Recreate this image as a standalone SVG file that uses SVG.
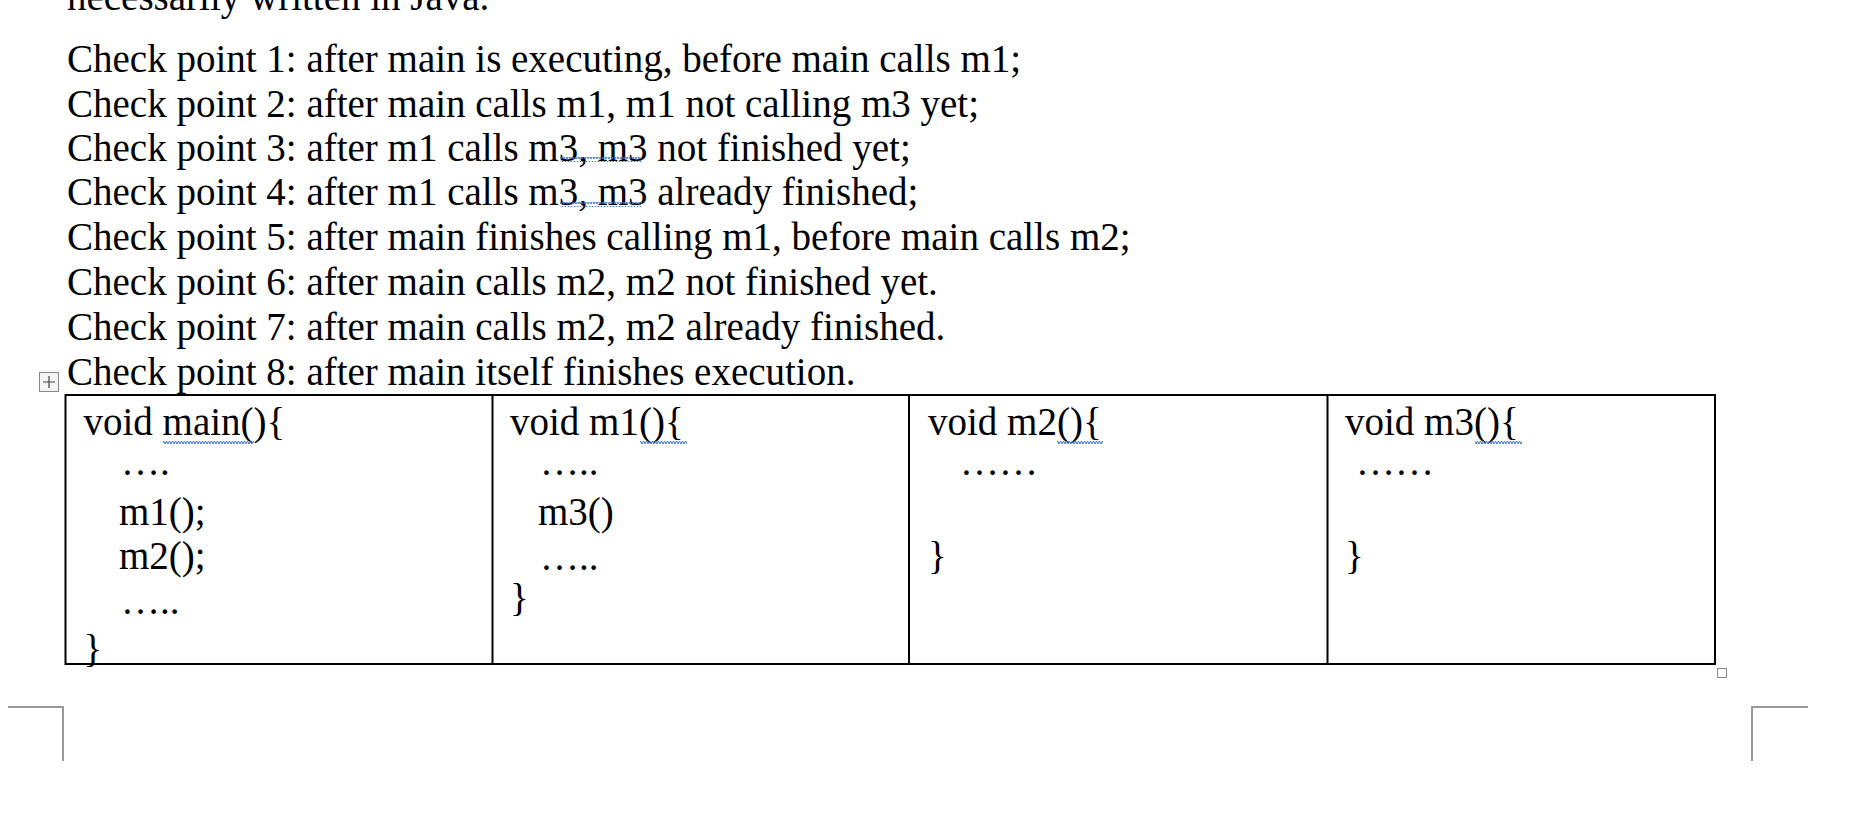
<svg xmlns="http://www.w3.org/2000/svg" width="1870" height="832" viewBox="0 0 1870 832">
<style>
text{font-family:"Liberation Serif","Times New Roman",serif;font-size:39px;fill:#000}
.b{fill:none;stroke:#000;stroke-width:2}
.m{fill:none;stroke:#999;stroke-width:2}
</style>
<defs>
<pattern id="sq" width="6" height="5" patternUnits="userSpaceOnUse"><path d="M0 4 L1.5 1 L3 4 L4.5 1 L6 4" fill="none" stroke="#3b6fd4" stroke-width="1"/></pattern>
</defs>
<rect width="1870" height="832" fill="#fff"/>
<g id="text">
<text x="67" y="10">necessarily written in Java.</text>
<text x="67" y="72">Check point 1: after main is executing, before main calls m1;</text>
<text x="67" y="117">Check point 2: after main calls m1, m1 not calling m3 yet;</text>
<text x="67" y="161">Check point 3: after m1 calls m3,  m3 not finished yet;</text>
<text x="67" y="205">Check point 4: after m1 calls m3,  m3 already finished;</text>
<text x="67" y="250">Check point 5: after main finishes calling m1, before main calls m2;</text>
<text x="67" y="295">Check point 6: after main calls m2, m2 not finished yet.</text>
<text x="67" y="340">Check point 7: after main calls m2, m2 already finished.</text>
<text x="67" y="385">Check point 8: after main itself finishes execution.</text>
</g>
<g id="table">
<rect class="b" x="65.5" y="395" width="1649.5" height="269"/>
<line class="b" x1="492.5" y1="395" x2="492.5" y2="664"/>
<line class="b" x1="909" y1="395" x2="909" y2="664"/>
<line class="b" x1="1327.5" y1="395" x2="1327.5" y2="664"/>
</g>
<g id="main">
<text x="83.5" y="435">void main(){</text>
<text x="121" y="475">….</text>
<text x="119" y="525">m1();</text>
<text x="119" y="569">m2();</text>
<text x="121" y="614">…..</text>
<text x="83.5" y="662">}</text>
</g>
<g id="m1">
<text x="510" y="435">void m1(){</text>
<text x="540" y="475">…..</text>
<text x="538" y="525">m3()</text>
<text x="540" y="570">…..</text>
<text x="510" y="611">}</text>
</g>
<g id="m2">
<text x="928" y="435">void m2(){</text>
<text x="960" y="475">……</text>
<text x="928" y="569">}</text>
</g>
<g id="m3">
<text x="1345" y="435">void m3(){</text>
<text x="1356" y="475">……</text>
<text x="1345" y="569">}</text>
</g>
<g id="squiggles">
<rect x="560" y="157" width="82" height="5" fill="url(#sq)"/>
<rect x="560" y="202" width="82" height="5" fill="url(#sq)"/>
<rect x="163" y="440" width="91" height="5" fill="url(#sq)"/>
<rect x="640" y="440" width="47" height="5" fill="url(#sq)"/>
<rect x="1057" y="440" width="46" height="5" fill="url(#sq)"/>
<rect x="1475" y="440" width="47" height="5" fill="url(#sq)"/>
</g>
<g id="marks">
<rect x="39.5" y="372.5" width="19" height="19" fill="#f4f4f4" stroke="#888" stroke-width="1"/>
<path d="M49 376 V388 M43 382 H55" stroke="#444" stroke-width="1.2"/>
<rect x="1717.5" y="668.5" width="9" height="9" fill="#fff" stroke="#888" stroke-width="1"/>
<path class="m" d="M8 707 H63 V761"/>
<path class="m" d="M1808 707 H1752 V761"/>
</g>
</svg>
